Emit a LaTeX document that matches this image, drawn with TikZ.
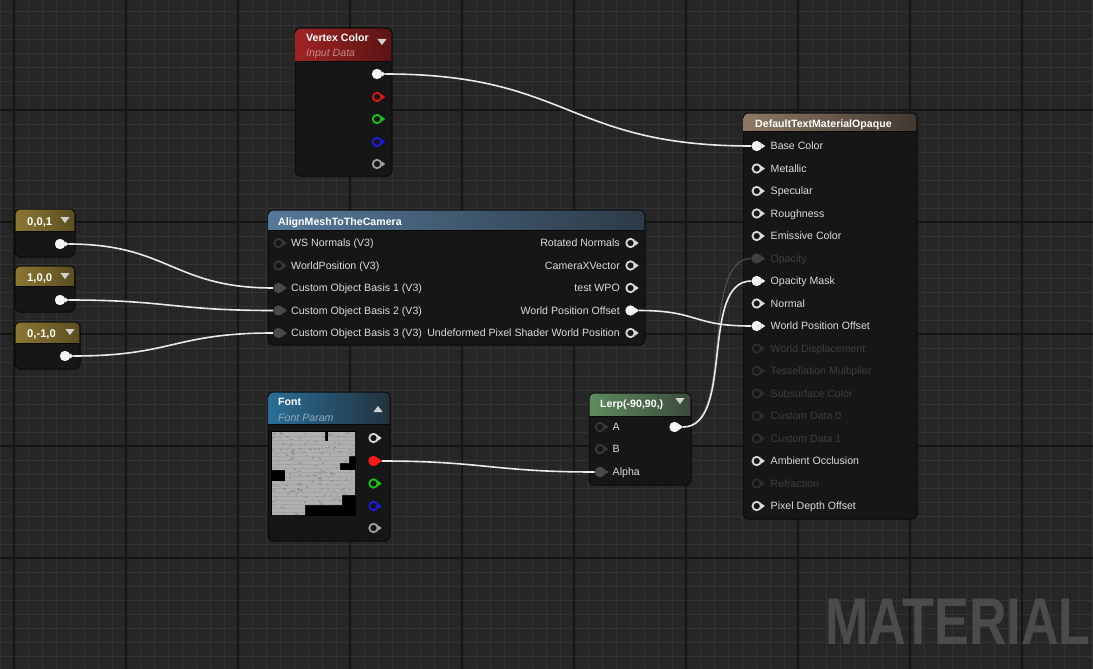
\documentclass[tikz,border=0pt]{standalone}
\usepackage{fontspec}
\setmainfont{Liberation Sans}
\usetikzlibrary{calc}
\definecolor{bgc}{HTML}{262626}
\definecolor{gridminor}{HTML}{333333}
\definecolor{gridmajor}{HTML}{151515}
\definecolor{bodyc}{HTML}{151615}
\definecolor{borderc}{HTML}{090909}
\definecolor{labc}{HTML}{DCDCDC}
\definecolor{dimlab}{HTML}{3E3E3E}
\definecolor{dimpin}{HTML}{383838}
\definecolor{dimpinb}{HTML}{2E2E2E}
\definecolor{conpin}{HTML}{4A4A4A}
\definecolor{oppin}{HTML}{404040}
\definecolor{wirec}{HTML}{EAEAEA}
\definecolor{faintwire}{HTML}{505050}
\definecolor{pinwhite}{HTML}{F4F4F4}
\definecolor{pinring}{HTML}{DADADA}
\definecolor{pinred}{HTML}{E01414}
\definecolor{pinredf}{HTML}{FF1A1A}
\definecolor{pingreen}{HTML}{18C418}
\definecolor{pinblue}{HTML}{1A1AE6}
\definecolor{pingrey}{HTML}{A0A0A0}
\definecolor{matc}{HTML}{4B4B4B}
\definecolor{hdrtri}{HTML}{D2D2D2}
\definecolor{vcL}{HTML}{A02424}\definecolor{vcR}{HTML}{5A1414}
\definecolor{cnL}{HTML}{8C7632}\definecolor{cnR}{HTML}{5C4E22}
\definecolor{amL}{HTML}{55799A}\definecolor{amR}{HTML}{2C3A46}
\definecolor{dtL}{HTML}{8E7A64}\definecolor{dtR}{HTML}{403832}
\definecolor{fnL}{HTML}{2A6E96}\definecolor{fnR}{HTML}{22323E}
\definecolor{lpL}{HTML}{5E8C5E}\definecolor{lpR}{HTML}{3C4A3C}
\definecolor{vcsub}{HTML}{C88888}
\definecolor{fnsub}{HTML}{8CABBB}
\definecolor{texg}{HTML}{B0B0B0}
\definecolor{texd}{HTML}{8E8E8E}

\tikzset{
  uebody/.style={draw=borderc, line width=1pt, fill=bodyc, rounded corners=5pt, inner sep=0pt, outer sep=0pt},
  pinopen/.style={circle, inner sep=0pt, minimum size=8.4pt, draw=#1, line width=1.8pt, fill=bodyc},
  pinfull/.style={circle, inner sep=0pt, minimum size=10.4pt, fill=#1, draw=none},
  labl/.style={anchor=base west, inner sep=0pt, font=\fontsize{10.6}{12}\selectfont, text=labc},
  labr/.style={anchor=base east, inner sep=0pt, font=\fontsize{10.6}{12}\selectfont, text=labc},
  ttl/.style={anchor=base west, inner sep=0pt, font=\fontsize{10.6}{12}\selectfont\bfseries, text=white},
  subttl/.style={anchor=base west, inner sep=0pt, font=\fontsize{10.6}{12}\selectfont\itshape},
  wire/.style={draw=wirec, line width=1.6pt},
  fwire/.style={draw=faintwire, line width=1.1pt},
  minorgrid/.style={draw=gridminor, line width=1pt},
  majorgrid/.style={draw=gridmajor, line width=1.3pt}
}

% name, x1, y1, x2, y2, header bottom, left colour, right colour
\newcommand{\uebox}[8]{%
  \node[uebody, anchor=north west, minimum width={(#4-#2)*1pt}, minimum height={(#5-#3)*1pt}] (#1) at (#2,#3) {};
  \shade[left color=#7, right color=#8] (#2+0.6,#6) [rounded corners=4.5pt] -- (#2+0.6,#3+0.6) -- (#4-0.6,#3+0.6) [sharp corners] -- (#4-0.6,#6) -- cycle;
  \draw[borderc, line width=0.8pt] (#2+0.6,#6) -- (#4-0.6,#6);
}
% name, x, y, colour, style
\newcommand{\uepin}[5]{%
  \node[#5=#4] (#1) at (#2,#3) {};
  \fill[#4] ([xshift=-0.8pt]#1.east) ++(0,-2.8) -- ++(3.9,2.8) -- ++(-3.9,2.8) -- cycle;
  \coordinate (#1t) at ([xshift=3pt]#1.east);
}
\newcommand{\uedown}[2]{\fill[hdrtri] (#1-4.6,#2-3) -- (#1+4.6,#2-3) -- (#1,#2+3) -- cycle;}
\newcommand{\ueup}[2]{\fill[hdrtri] (#1-4.6,#2+3) -- (#1+4.6,#2+3) -- (#1,#2-3) -- cycle;}

\begin{document}
\begin{tikzpicture}[x=1pt, y=-1pt]
\useasboundingbox (0,0) rectangle (1093,669);
\fill[bgc] (0,0) rectangle (1093,669);
% grid
\foreach \x in {0,14,...,1092} \draw[minorgrid] (\x,0) -- (\x,669);
\foreach \y in {12,26,...,668} \draw[minorgrid] (0,\y) -- (1093,\y);
\foreach \x in {14,126,...,1092} \draw[majorgrid] (\x,0) -- (\x,669);
\foreach \y in {110,222,...,668} \draw[majorgrid] (0,\y) -- (1093,\y);

% MATERIAL watermark
\node[anchor=base west, inner sep=0pt, text=matc, font=\fontsize{66}{66}\selectfont\bfseries] (mat) at (825,644) {\scalebox{0.79}[1]{MATERIAL}};

% ---------- Vertex Color ----------
\uebox{vc}{295}{28}{392}{176}{61}{vcL}{vcR}
\node[ttl] (vct) at (306,41.8) {Vertex Color};
\node[subttl, text=vcsub] (vcs) at (306,56.8) {Input Data};
\uedown{382}{42}
\uepin{vco1}{377}{74}{pinwhite}{pinfull}
\uepin{vco2}{377}{97}{pinred}{pinopen}
\uepin{vco3}{377}{119}{pingreen}{pinopen}
\uepin{vco4}{377}{142}{pinblue}{pinopen}
\uepin{vco5}{377}{164}{pingrey}{pinopen}

% ---------- Constants ----------
\uebox{ca}{15}{209}{75}{257}{231}{cnL}{cnR}
\node[ttl, font=\fontsize{11.2}{12}\selectfont\bfseries] (cat) at (27,225.5) {0,0,1};
\uedown{65}{220}
\uepin{cao}{60}{244}{pinwhite}{pinfull}

\uebox{cb}{15}{266}{75}{312}{286}{cnL}{cnR}
\node[ttl, font=\fontsize{11.2}{12}\selectfont\bfseries] (cbt) at (27,281.5) {1,0,0};
\uedown{65}{276}
\uepin{cbo}{60}{300}{pinwhite}{pinfull}

\uebox{cc}{15}{322}{80}{369}{343}{cnL}{cnR}
\node[ttl, font=\fontsize{11.2}{12}\selectfont\bfseries] (cct) at (27,337.5) {0,-1,0};
\uedown{70}{332}
\uepin{cco}{65}{356}{pinwhite}{pinfull}

% ---------- AlignMeshToTheCamera ----------
\uebox{am}{268}{210}{645}{345}{230}{amL}{amR}
\node[ttl] (amt) at (278,225) {AlignMeshToTheCamera};
\uepin{ami1}{278.5}{243}{dimpin}{pinopen}
\uepin{ami2}{278.5}{265.5}{dimpin}{pinopen}
\uepin{ami3}{278.5}{288}{conpin}{pinfull}
\uepin{ami4}{278.5}{310.5}{conpin}{pinfull}
\uepin{ami5}{278.5}{333}{conpin}{pinfull}
\node[labl] (aml1) at (291,246.8) {WS Normals (V3)};
\node[labl] (aml2) at (291,269.3) {WorldPosition (V3)};
\node[labl] (aml3) at (291,291.8) {Custom Object Basis 1 (V3)};
\node[labl] (aml4) at (291,314.3) {Custom Object Basis 2 (V3)};
\node[labl] (aml5) at (291,336.8) {Custom Object Basis 3 (V3)};
\uepin{amo1}{630.5}{243}{pinring}{pinopen}
\uepin{amo2}{630.5}{265.5}{pinring}{pinopen}
\uepin{amo3}{630.5}{288}{pinring}{pinopen}
\uepin{amo4}{630.5}{310.5}{pinwhite}{pinfull}
\uepin{amo5}{630.5}{333}{pinring}{pinopen}
\node[labr] (amr1) at (620,246.8) {Rotated Normals};
\node[labr] (amr2) at (620,269.3) {CameraXVector};
\node[labr] (amr3) at (620,291.8) {test WPO};
\node[labr] (amr4) at (620,314.3) {World Position Offset};
\node[labr] (amr5) at (620,336.8) {Undeformed Pixel Shader World Position};

% ---------- DefaultTextMaterialOpaque ----------
\uebox{dt}{743}{113}{917}{519}{131}{dtL}{dtR}
\node[ttl] (dtt) at (755,127.2) {DefaultTextMaterialOpaque};
\foreach \i/\lab/\pc/\ps/\lc in {
  1/Base Color/pinwhite/pinfull/labc,
  2/Metallic/pinring/pinopen/labc,
  3/Specular/pinring/pinopen/labc,
  4/Roughness/pinring/pinopen/labc,
  5/Emissive Color/pinring/pinopen/labc,
  6/Opacity/oppin/pinfull/dimlab,
  7/Opacity Mask/pinwhite/pinfull/labc,
  8/Normal/pinring/pinopen/labc,
  9/World Position Offset/pinwhite/pinfull/labc,
  10/World Displacement/dimpinb/pinopen/dimlab,
  11/Tessellation Multiplier/dimpinb/pinopen/dimlab,
  12/Subsurface Color/dimpinb/pinopen/dimlab,
  13/Custom Data 0/dimpinb/pinopen/dimlab,
  14/Custom Data 1/dimpinb/pinopen/dimlab,
  15/Ambient Occlusion/pinring/pinopen/labc,
  16/Refraction/dimpinb/pinopen/dimlab,
  17/Pixel Depth Offset/pinring/pinopen/labc} {
  \pgfmathsetmacro{\yy}{146+22.5*(\i-1)}
  \uepin{dtp\i}{756.7}{\yy}{\pc}{\ps}
  \node[labl, text=\lc] (dtl\i) at (770.5,\yy+3.8) {\lab};
}

% ---------- Font ----------
\uebox{fn}{268}{392}{390}{541}{424}{fnL}{fnR}
\node[ttl] (fnt) at (278,405.5) {Font};
\node[subttl, text=fnsub] (fns) at (278,421) {Font Param};
\ueup{378}{409}
\fill[black] (271,431) rectangle (356,516);
\begin{scope}
  \clip (272,432) rectangle (325,441) (328,432) rectangle (355,441)
        (272,441) rectangle (355,456) (272,456) rectangle (349,463)
        (272,463) rectangle (340,470) (285,470) rectangle (355,481)
        (272,481) rectangle (355,495) (272,495) rectangle (342,505)
        (272,505) rectangle (305,515);
  \fill[texg] (270,430) rectangle (357,517);
  \pgfmathsetseed{11}
  \foreach \k in {1,...,220} {
    \pgfmathsetmacro{\rx}{272+83*rnd}
    \pgfmathsetmacro{\ry}{432+83*rnd}
    \fill[texd, opacity=0.7] (\rx,\ry) rectangle ++(2.2,1.4);
  }
  \foreach \yy in {436,440,...,515} \draw[texd, line width=0.6pt, opacity=0.35] (272,\yy) -- (356,\yy);
\end{scope}
\uepin{fno1}{373.5}{438}{pinring}{pinopen}
\uepin{fno2}{373.5}{461}{pinredf}{pinfull}
\uepin{fno3}{373.5}{483.5}{pingreen}{pinopen}
\uepin{fno4}{373.5}{506}{pinblue}{pinopen}
\uepin{fno5}{373.5}{528}{pingrey}{pinopen}

% ---------- Lerp ----------
\uebox{lp}{589}{393}{691}{485}{416}{lpL}{lpR}
\node[ttl] (lpt) at (600,407.3) {Lerp(-90,90,)};
\uedown{680}{401}
\uepin{lpa}{600}{427}{dimpin}{pinopen}
\uepin{lpb}{600}{449}{dimpin}{pinopen}
\uepin{lpal}{600}{472}{conpin}{pinfull}
\node[labl] (lpla) at (612.5,430.8) {A};
\node[labl] (lplb) at (612.5,452.8) {B};
\node[labl] (lplc) at (612.5,475.8) {Alpha};
\uepin{lpo}{674.5}{427}{pinwhite}{pinfull}

% ---------- wires ----------
\draw[fwire] (lpot) .. controls +(52,0) and +(-52,0) .. (dtp6.west);
\draw[wire] (vco1t) .. controls +(185,0) and +(-185,0) .. (dtp1.west);
\draw[wire] (caot) .. controls +(100,0) and +(-100,0) .. (ami3.west);
\draw[wire] (cbot) .. controls +(100,0) and +(-100,0) .. (ami4.west);
\draw[wire] (ccot) .. controls +(100,0) and +(-100,0) .. (ami5.west);
\draw[wire] (amo4t) .. controls +(60,0) and +(-60,0) .. (dtp9.west);
\draw[wire] (fno2t) .. controls +(100,0) and +(-100,0) .. (lpal.west);
\draw[wire] (lpot) .. controls +(52,0) and +(-52,0) .. (dtp7.west);
\end{tikzpicture}
\end{document}
